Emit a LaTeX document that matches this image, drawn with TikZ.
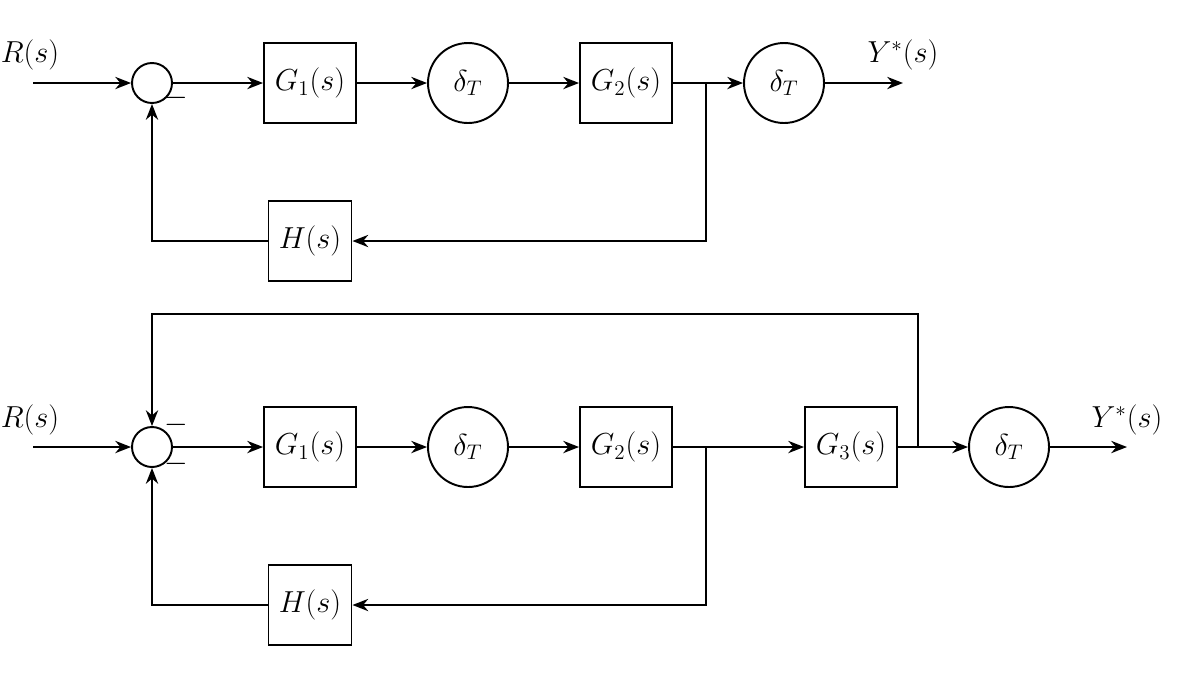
\documentclass[tikz,border=0pt]{standalone}
\usetikzlibrary{arrows.meta}
\begin{document}
\begin{tikzpicture}[x=0.02cm,y=-0.02cm,
  every node/.style={font=\fontsize{17}{20}\selectfont},
  blk/.style={draw, line width=1.1pt, minimum width=1.84cm, minimum height=1.6cm, inner sep=0pt},
  hblk/.style={blk, minimum width=1.66cm},
  samp/.style={draw, circle, line width=1.1pt, minimum size=1.6cm, inner sep=0pt},
  sum/.style={draw, circle, line width=1.1pt, minimum size=0.8cm, inner sep=0pt},
  sig/.style={line width=1.1pt, -{Stealth[length=9pt,width=7pt]}},
  wire/.style={line width=1.1pt}]
\useasboundingbox (0,0) rectangle (1183,674);
% top loop
\coordinate (in1) at (33,83);
\node[sum] (s1) at (152,83) {};
\node[blk] (g11) at (310,83) {$G_1(s)$};
\node[samp] (d11) at (468,83) {$\delta_T$};
\node[blk] (g21) at (626,83) {$G_2(s)$};
\coordinate (b1) at (706,83);
\node[samp] (d21) at (784,83) {$\delta_T$};
\coordinate (out1) at (903,83);
\node[hblk] (h1) at (310,241) {$H(s)$};
\node at (30,55) {$R(s)$};
\node at (903,55) {$Y^{*}(s)$};
\node at (176,98) {$-$};
\draw[sig] (in1) -- (s1);
\draw[sig] (s1) -- (g11);
\draw[sig] (g11) -- (d11);
\draw[sig] (d11) -- (g21);
\draw[sig] (g21) -- (d21);
\draw[sig] (d21) -- (out1);
\draw[sig] (b1) |- (h1);
\draw[sig] (h1) -| (s1);
% bottom loop
\coordinate (in2) at (33,447);
\node[sum] (s2) at (152,447) {};
\node[blk] (g12) at (310,447) {$G_1(s)$};
\node[samp] (d12) at (468,447) {$\delta_T$};
\node[blk] (g22) at (626,447) {$G_2(s)$};
\coordinate (b2) at (706,447);
\node[blk] (g3) at (851,447) {$G_3(s)$};
\coordinate (b3) at (918,447);
\coordinate (t3) at (918,314);
\node[samp] (d22) at (1009,447) {$\delta_T$};
\coordinate (out2) at (1127,447);
\node[hblk] (h2) at (310,605) {$H(s)$};
\node at (30,420) {$R(s)$};
\node at (1127,420) {$Y^{*}(s)$};
\node at (176,425) {$-$};
\node at (176,464) {$-$};
\draw[sig] (in2) -- (s2);
\draw[sig] (s2) -- (g12);
\draw[sig] (g12) -- (d12);
\draw[sig] (d12) -- (g22);
\draw[sig] (g22) -- (g3);
\draw[sig] (g3) -- (d22);
\draw[sig] (d22) -- (out2);
\draw[sig] (b2) |- (h2);
\draw[sig] (h2) -| (s2);
\draw[sig] (b3) -- (t3) -| (s2);
\end{tikzpicture}
\end{document}
